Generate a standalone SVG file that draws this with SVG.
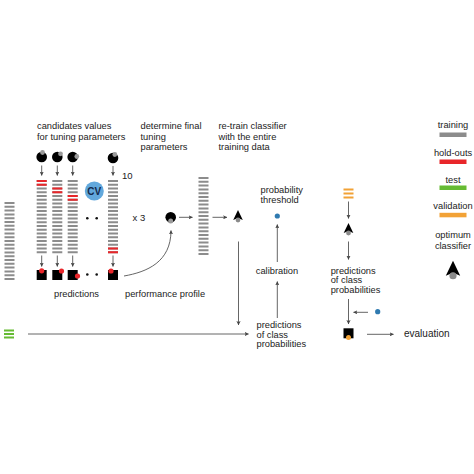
<svg xmlns="http://www.w3.org/2000/svg" xmlns:xlink="http://www.w3.org/1999/xlink" width="474" height="474" viewBox="0 0 474 474">
<style>
text{font-family:"Liberation Sans",Arial,Helvetica,sans-serif;font-size:9.3px;fill:#222}
.mid{text-anchor:middle}
.stack{stroke:#8c8c8c;stroke-width:10;fill:none}
.c20{stroke-dasharray:2 1.75}
.c21{stroke-dasharray:2 1.8}
.red{fill:#e8262a}
.sq{fill:#000}
.ball{fill:#000}
.gball{fill:#9a9a9a}
.conn{stroke:#555;stroke-width:0.9;fill:none;marker-end:url(#ah)}
.dot{fill:#111}
</style>
<defs>
<marker id="ah" viewBox="0 0 8 8" refX="7.5" refY="4" markerWidth="4.2" markerHeight="4.2" markerUnits="userSpaceOnUse" orient="auto">
<path d="M0,0 L8,4 L0,8 L2,4 Z" fill="#444"/>
</marker>
<g id="clf">
<path d="M0,-6.5 L4.8,3.5 L0,1.5 L-4.8,3.5 Z" fill="#000"/>
<circle cx="0" cy="3.5" r="2.4" fill="#8a8a8a"/>
</g>
</defs>

<rect width="474" height="474" fill="#fff"/>

<g id="labels-top">
<text x="37" y="129">candidates values</text>
<text x="37" y="139.5">for tuning parameters</text>
<text x="140.5" y="129">determine final</text>
<text x="140.5" y="139.5">tuning</text>
<text x="140.5" y="150">parameters</text>
<text x="218.5" y="129">re-train classifier</text>
<text x="218.5" y="139.5">with the entire</text>
<text x="218.5" y="150">training data</text>
</g>

<g id="training-data">
<line class="stack c21" x1="9.5" y1="202" x2="9.5" y2="280"/>
</g>

<g id="test-data">
<line x1="9" y1="329.5" x2="9" y2="338.5" stroke="#66bb33" stroke-width="10" stroke-dasharray="2 1.5"/>
</g>

<g id="candidate-1">
<circle class="ball" cx="41.7" cy="157" r="5.3"/>
<circle class="gball" cx="42.5" cy="152.5" r="2.4"/>
</g>
<g id="candidate-2">
<circle class="ball" cx="57.3" cy="157" r="5.3"/>
<circle class="gball" cx="60.5" cy="153.8" r="2.4"/>
</g>
<g id="candidate-3">
<circle class="ball" cx="72.7" cy="157" r="5.3"/>
<circle class="gball" cx="76.8" cy="156.5" r="2.4"/>
</g>
<g id="candidate-10">
<circle class="ball" cx="113" cy="158" r="5.3"/>
<circle class="gball" cx="114.8" cy="154.5" r="2.4"/>
</g>

<g id="fold-1">
<line class="stack c20" x1="41.7" y1="180" x2="41.7" y2="253.25"/>
<rect class="red" x="36.7" y="180" width="10" height="2"/>
<rect class="red" x="36.7" y="183.75" width="10" height="2"/>
</g>
<g id="fold-2">
<line class="stack c20" x1="57.3" y1="180" x2="57.3" y2="253.25"/>
<rect class="red" x="52.3" y="187.5" width="10" height="2"/>
<rect class="red" x="52.3" y="191.25" width="10" height="2"/>
</g>
<g id="fold-3">
<line class="stack c20" x1="72.7" y1="180" x2="72.7" y2="253.25"/>
<rect class="red" x="67.7" y="195" width="10" height="2"/>
<rect class="red" x="67.7" y="198.75" width="10" height="2"/>
</g>
<g id="fold-10">
<line class="stack c20" x1="113" y1="180" x2="113" y2="253.25"/>
<rect class="red" x="108" y="247.5" width="10" height="2"/>
<rect class="red" x="108" y="251.25" width="10" height="2"/>
</g>

<g id="cv">
<circle cx="94.3" cy="191" r="9.5" fill="#62a8dc"/>
<text class="mid" x="94.3" y="194.6" style="font-size:10px;font-weight:bold;fill:#13294b">CV</text>
</g>
<g id="ellipsis">
<circle class="dot" cx="87.3" cy="218.3" r="1.3"/>
<circle class="dot" cx="96.7" cy="218.3" r="1.3"/>
<circle class="dot" cx="87.3" cy="274.5" r="1.3"/>
<circle class="dot" cx="96.7" cy="274.5" r="1.3"/>
</g>
<g id="counts">
<text x="122" y="178.5" style="font-size:9.5px">10</text>
<text x="132.5" y="221" style="font-size:9.5px">x 3</text>
</g>

<g id="pred-1">
<rect class="sq" x="36.7" y="270" width="10" height="10"/>
<circle class="red" cx="41.7" cy="270.8" r="2.6"/>
</g>
<g id="pred-2">
<rect class="sq" x="52.3" y="270" width="10" height="10"/>
<circle class="red" cx="61.5" cy="271" r="2.6"/>
</g>
<g id="pred-3">
<rect class="sq" x="67.7" y="270" width="10" height="10"/>
<circle class="red" cx="77.5" cy="276" r="2.6"/>
</g>
<g id="pred-10">
<rect class="sq" x="108" y="270" width="10" height="10"/>
<circle class="red" cx="111" cy="271" r="2.6"/>
</g>
<g id="labels-bottom">
<text x="54" y="297">predictions</text>
<text x="125" y="297">performance profile</text>
</g>

<g id="final-params">
<circle class="ball" cx="170.7" cy="217.3" r="5.3"/>
<circle class="gball" cx="170.7" cy="221" r="2.5"/>
</g>
<g id="retrain-data">
<line class="stack c21" x1="203.5" y1="177" x2="203.5" y2="255"/>
</g>
<g id="classifier">
<use xlink:href="#clf" href="#clf" x="238" y="216.5"/>
</g>

<g id="threshold">
<text x="260.5" y="193">probability</text>
<text x="260.5" y="202.5">threshold</text>
<circle cx="277.3" cy="216" r="2.6" fill="#2f7ab0"/>
</g>
<g id="calibration">
<text class="mid" x="277" y="273.5">calibration</text>
</g>
<g id="predictions-cal">
<text x="256.5" y="328.3">predictions</text>
<text x="256.5" y="337.5">of class</text>
<text x="256.5" y="346.7">probabilities</text>
</g>

<g id="validation-data">
<line x1="348.5" y1="188.5" x2="348.5" y2="198.5" stroke="#f2a236" stroke-width="10" stroke-dasharray="2 2"/>
</g>
<g id="classifier-val">
<use xlink:href="#clf" href="#clf" x="348.5" y="229.5"/>
</g>
<g id="predictions-val">
<text x="330.7" y="274">predictions</text>
<text x="330.7" y="283.3">of class</text>
<text x="330.7" y="292.6">probabilities</text>
</g>
<g id="threshold-val">
<circle cx="377.7" cy="311.7" r="2.6" fill="#2f7ab0"/>
</g>
<g id="final-pred">
<rect class="sq" x="343.5" y="328.3" width="10" height="10"/>
<circle cx="348.5" cy="337.5" r="2.5" fill="#f2a236"/>
</g>
<g id="evaluation">
<text x="404" y="336.7" style="font-size:10px">evaluation</text>
</g>

<g id="connectors">
<path class="conn" d="M41.7,165.5 V175.5"/>
<path class="conn" d="M57.3,165.5 V175.5"/>
<path class="conn" d="M72.7,165.5 V175.5"/>
<path class="conn" d="M113,166 V175.5"/>
<path class="conn" d="M41.7,255.5 V266.5"/>
<path class="conn" d="M57.3,255.5 V266.5"/>
<path class="conn" d="M72.7,255.5 V266.5"/>
<path class="conn" d="M113,255.5 V266.5"/>
<path class="conn" d="M124,276 C147,272 171,262 171,230.5"/>
<path class="conn" d="M179,217.3 H192.5"/>
<path class="conn" d="M212.5,217.3 H227"/>
<path class="conn" d="M238.5,241.5 V325"/>
<path class="conn" d="M28,334 H248.5"/>
<path class="conn" d="M277.3,318 V281.5"/>
<path class="conn" d="M277.3,262 V224.5"/>
<path class="conn" d="M348.5,201.5 V218.5"/>
<path class="conn" d="M348.5,241.5 V259.5"/>
<path class="conn" d="M348.5,299 V324"/>
<path class="conn" d="M368,312.3 H353.5"/>
<path class="conn" d="M367,334.3 H393.5"/>
</g>

<g id="legend">
<text class="mid" x="453" y="128">training</text>
<rect x="439.5" y="132.5" width="27" height="4.5" fill="#8c8c8c"/>
<text class="mid" x="453" y="156">hold-outs</text>
<rect x="439.5" y="159.5" width="27" height="4.5" fill="#e8262a"/>
<text class="mid" x="453" y="182.5">test</text>
<rect x="439.5" y="185.5" width="27" height="4.5" fill="#66bb33"/>
<text class="mid" x="453" y="209">validation</text>
<rect x="439.5" y="212.8" width="27" height="4.5" fill="#f2a236"/>
<text class="mid" x="453" y="238.3">optimum</text>
<text class="mid" x="453" y="248.5">classifier</text>
<use xlink:href="#clf" href="#clf" transform="translate(453,270.5) scale(1.5)"/>
</g>
</svg>
